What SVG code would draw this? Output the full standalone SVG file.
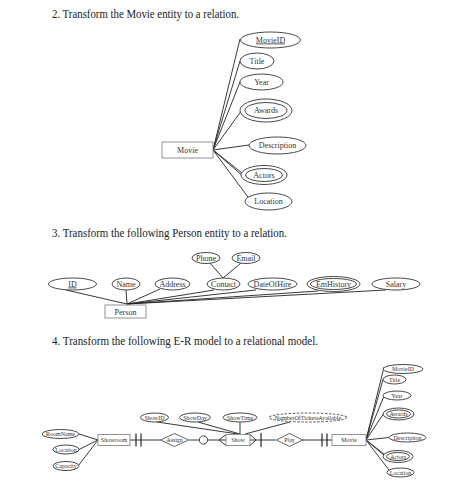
<svg xmlns="http://www.w3.org/2000/svg" width="474" height="481" viewBox="0 0 474 481">
<style>
  text { font-family: "Liberation Serif", "DejaVu Serif", serif; fill: #333; }
  .title { font-size: 12.5px; fill: #222; }
  .t1 { font-size: 8px; text-anchor: middle; }
  .t2 { font-size: 8px; text-anchor: middle; }
  .t3 { font-size: 6px; text-anchor: middle; }
  .ent { fill: #fff; stroke: #888; stroke-width: 0.9; }
  .att { fill: #fff; stroke: #333; stroke-width: 0.9; }
  .dash { fill: #fff; stroke: #444; stroke-width: 0.9; stroke-dasharray: 2.5 1.5; }
  .ln { stroke: #222; stroke-width: 0.9; fill: none; }
  .bar { stroke: #222; stroke-width: 1.2; }
  .rel { fill: #fff; stroke: #555; stroke-width: 0.9; }
</style>
<rect width="474" height="481" fill="#fff"/>

<text class="title" x="52" y="18" textLength="187" lengthAdjust="spacingAndGlyphs">2. Transform the Movie entity to a relation.</text>
<text class="title" x="52" y="237" textLength="235" lengthAdjust="spacingAndGlyphs">3. Transform the following Person entity to a relation.</text>
<text class="title" x="52" y="345" textLength="266" lengthAdjust="spacingAndGlyphs">4. Transform the following E-R model to a relational model.</text>

<!-- Section 1 connectors -->
<g id="connectors1">
  <line class="ln" x1="213" y1="150" x2="240" y2="39"/>
  <line class="ln" x1="213" y1="150" x2="240" y2="61"/>
  <line class="ln" x1="213" y1="150" x2="240" y2="82"/>
  <line class="ln" x1="213" y1="150" x2="242" y2="110"/>
  <line class="ln" x1="213" y1="150" x2="249" y2="145"/>
  <line class="ln" x1="213" y1="150" x2="242" y2="173"/>
  <line class="ln" x1="213" y1="150" x2="244" y2="177"/>
  <line class="ln" x1="213" y1="150" x2="248" y2="197"/>
</g>
<g id="movie1">
  <rect class="ent" x="162" y="142" width="51" height="16"/>
  <text class="t1" x="187.5" y="153">Movie</text>
</g>
<g id="movieid1">
  <ellipse class="att" cx="270.5" cy="40" rx="30" ry="8"/>
  <text class="t1" x="270.5" y="42.5" text-decoration="underline">MovieID</text>
</g>
<g id="title1">
  <ellipse class="att" cx="257" cy="61" rx="17" ry="8"/>
  <text class="t1" x="257" y="63.5">Title</text>
</g>
<g id="year1">
  <ellipse class="att" cx="261.5" cy="82" rx="21.5" ry="8"/>
  <text class="t1" x="261.5" y="84.5">Year</text>
</g>
<g id="awards1">
  <ellipse class="att" cx="266" cy="110.5" rx="26" ry="11.5"/>
  <ellipse class="att" cx="266" cy="110.5" rx="21" ry="8"/>
  <text class="t1" x="266" y="113">Awards</text>
</g>
<g id="description1">
  <ellipse class="att" cx="277.5" cy="145.5" rx="28.5" ry="8.5"/>
  <text class="t1" x="277.5" y="148">Description</text>
</g>
<g id="actors1">
  <ellipse class="att" cx="264" cy="175" rx="23" ry="9.5"/>
  <ellipse class="att" cx="264" cy="175" rx="18.5" ry="6.5"/>
  <text class="t1" x="264" y="177.5">Actors</text>
</g>
<g id="location1">
  <ellipse class="att" cx="268.5" cy="201.5" rx="23.5" ry="8.5"/>
  <text class="t1" x="268.5" y="204">Location</text>
</g>

<!-- Section 2 -->
<g id="connectors2">
  <line class="ln" x1="127" y1="304" x2="66" y2="290"/>
  <line class="ln" x1="127" y1="304" x2="126" y2="290"/>
  <line class="ln" x1="127" y1="304" x2="160" y2="289"/>
  <line class="ln" x1="127" y1="304" x2="214" y2="290"/>
  <line class="ln" x1="127" y1="304" x2="256" y2="290"/>
  <line class="ln" x1="127" y1="304" x2="318" y2="291"/>
  <line class="ln" x1="127" y1="304" x2="386" y2="290"/>
  <line class="ln" x1="223" y1="278" x2="210" y2="263"/>
  <line class="ln" x1="223" y1="278" x2="241" y2="263"/>
</g>
<g id="person">
  <rect class="ent" x="105" y="305" width="41" height="13"/>
  <text class="t2" x="125.5" y="314.5">Person</text>
</g>
<g id="id2">
  <ellipse class="att" cx="72.5" cy="284" rx="24" ry="6"/>
  <text class="t2" x="72.5" y="286.5" text-decoration="underline">ID</text>
</g>
<g id="name2">
  <ellipse class="att" cx="126" cy="284" rx="14" ry="6"/>
  <text class="t2" x="126" y="286.5">Name</text>
</g>
<g id="address2">
  <ellipse class="att" cx="172.5" cy="284" rx="17.5" ry="6"/>
  <text class="t2" x="172.5" y="286.5">Address</text>
</g>
<g id="contact2">
  <ellipse class="att" cx="223.5" cy="284" rx="16.5" ry="6"/>
  <text class="t2" x="223.5" y="286.5">Contact</text>
</g>
<g id="dateofhire2">
  <ellipse class="att" cx="272.5" cy="284" rx="24.5" ry="6"/>
  <text class="t2" x="272.5" y="286.5">DateOfHire</text>
</g>
<g id="emhistory2">
  <ellipse class="att" cx="333.5" cy="284" rx="26.5" ry="7.5"/>
  <ellipse class="att" cx="333.5" cy="284" rx="23" ry="5.5"/>
  <text class="t2" x="333.5" y="286.5">EmHistory</text>
</g>
<g id="salary2">
  <ellipse class="att" cx="396" cy="284" rx="24" ry="6"/>
  <text class="t2" x="396" y="286.5">Salary</text>
</g>
<g id="phone2">
  <ellipse class="att" cx="206" cy="258" rx="14" ry="5.5"/>
  <text class="t2" x="206" y="260.5">Phone</text>
</g>
<g id="email2">
  <ellipse class="att" cx="246" cy="258" rx="14" ry="5.5"/>
  <text class="t2" x="246" y="260.5">Email</text>
</g>

<!-- Section 3 -->
<g id="connectors3">
  <line class="ln" x1="98" y1="440" x2="79" y2="434"/>
  <line class="ln" x1="98" y1="440" x2="79" y2="449.5"/>
  <line class="ln" x1="98" y1="440" x2="78" y2="466"/>
  <line class="ln" x1="130" y1="440" x2="160.5" y2="440"/>
  <line class="bar" x1="136" y1="433.5" x2="136" y2="446.5"/>
  <line class="bar" x1="141" y1="433.5" x2="141" y2="446.5"/>
  <line class="ln" x1="189" y1="440" x2="226" y2="440"/>
  <polyline class="ln" points="226,434.5 219,440 226,445.5"/>
  <polyline class="ln" points="250,434.5 256,440 250,445.5"/>
  <line class="ln" x1="250" y1="440" x2="276" y2="440"/>
  <line class="bar" x1="261" y1="433" x2="261" y2="447"/>
  <line class="ln" x1="302" y1="440" x2="332" y2="440"/>
  <line class="bar" x1="322" y1="433.5" x2="322" y2="446.5"/>
  <line class="bar" x1="327" y1="433.5" x2="327" y2="446.5"/>
  <line class="ln" x1="157" y1="422" x2="238" y2="434"/>
  <line class="ln" x1="198" y1="422" x2="240" y2="434"/>
  <line class="ln" x1="240" y1="422" x2="240" y2="434"/>
  <line class="ln" x1="290" y1="422" x2="245" y2="434"/>
  <line class="ln" x1="366" y1="440" x2="384" y2="367"/>
  <line class="ln" x1="366" y1="440" x2="383" y2="379.5"/>
  <line class="ln" x1="366" y1="440" x2="384" y2="396"/>
  <line class="ln" x1="366" y1="440" x2="384" y2="413"/>
  <line class="ln" x1="366" y1="440" x2="389" y2="437.5"/>
  <line class="ln" x1="366" y1="440" x2="384" y2="454"/>
  <line class="ln" x1="366" y1="440" x2="386" y2="457"/>
  <line class="ln" x1="366" y1="440" x2="389" y2="470"/>
</g>
<g id="showroom">
  <rect class="ent" x="98" y="434.5" width="32" height="11"/>
  <text class="t3" x="114" y="442">Showroom</text>
</g>
<g id="roomname">
  <ellipse class="att" cx="60.5" cy="434" rx="18.5" ry="4.5"/>
  <text class="t3" x="60.5" y="436">RoomName</text>
</g>
<g id="location3a">
  <ellipse class="att" cx="66" cy="449.5" rx="13" ry="4.5"/>
  <text class="t3" x="66" y="451.5">Location</text>
</g>
<g id="capacity">
  <ellipse class="att" cx="66" cy="466" rx="13" ry="4.5"/>
  <text class="t3" x="66" y="468">Capacity</text>
</g>
<g id="assign">
  <polygon class="rel" points="160.5,440 174.5,433.5 188.5,440 174.5,446.5"/>
  <text class="t3" x="174.5" y="442">Assign</text>
</g>
<g id="optional">
  <circle class="att" cx="203.5" cy="440" r="4.2"/>
</g>
<g id="show">
  <rect class="ent" x="226" y="434.5" width="24" height="11"/>
  <text class="t3" x="238" y="442">Show</text>
</g>
<g id="showid">
  <ellipse class="att" cx="154.5" cy="417.5" rx="14" ry="4.5"/>
  <text class="t3" x="154.5" y="419.5">ShowID</text>
</g>
<g id="showday">
  <ellipse class="att" cx="195" cy="417.5" rx="15.5" ry="4.5"/>
  <text class="t3" x="195" y="419.5">ShowDay</text>
</g>
<g id="showtime">
  <ellipse class="att" cx="240" cy="417.5" rx="17" ry="4.5"/>
  <text class="t3" x="240" y="419.5">ShowTime</text>
</g>
<g id="tickets">
  <ellipse class="dash" cx="308" cy="417.5" rx="39" ry="4.5"/>
  <text class="t3" x="308" y="419.5">NumberOfTicketsAvailable</text>
</g>
<g id="play">
  <polygon class="rel" points="276.5,440 289.5,433.5 302.5,440 289.5,446.5"/>
  <text class="t3" x="289.5" y="442">Play</text>
</g>
<g id="movie3">
  <rect class="ent" x="332" y="434.5" width="34" height="11"/>
  <text class="t3" x="349" y="442">Movie</text>
</g>
<g id="movieid3">
  <ellipse class="att" cx="403" cy="369" rx="20" ry="4.5"/>
  <text class="t3" x="403" y="371">MovieID</text>
</g>
<g id="title3">
  <ellipse class="att" cx="394.5" cy="379.5" rx="11.5" ry="4.5"/>
  <text class="t3" x="394.5" y="381.5">Title</text>
</g>
<g id="year3">
  <ellipse class="att" cx="397" cy="395.5" rx="14" ry="4.5"/>
  <text class="t3" x="397" y="397.5">Year</text>
</g>
<g id="awards3">
  <ellipse class="att" cx="398.5" cy="414" rx="15.5" ry="6"/>
  <ellipse class="att" cx="398.5" cy="414" rx="12" ry="4"/>
  <text class="t3" x="398.5" y="416">Awards</text>
</g>
<g id="description3">
  <ellipse class="att" cx="407.5" cy="437.5" rx="18.5" ry="4.5"/>
  <text class="t3" x="407.5" y="439.5">Description</text>
</g>
<g id="actors3">
  <ellipse class="att" cx="398" cy="456.5" rx="15" ry="6"/>
  <ellipse class="att" cx="398" cy="456.5" rx="11.5" ry="4"/>
  <text class="t3" x="398" y="458.5">Actors</text>
</g>
<g id="location3">
  <ellipse class="att" cx="400.5" cy="472.5" rx="13.5" ry="4.5"/>
  <text class="t3" x="400.5" y="474.5">Location</text>
</g>
</svg>
